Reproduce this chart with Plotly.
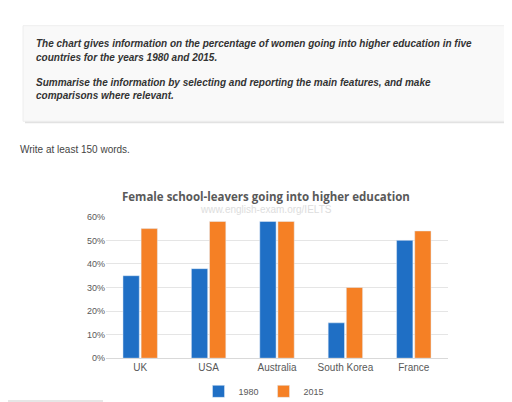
import plotly.graph_objects as go

countries = ["UK", "USA", "Australia", "South Korea", "France"]
v1980 = [0.35, 0.38, 0.58, 0.15, 0.50]
v2015 = [0.55, 0.58, 0.58, 0.30, 0.54]
ticks = [0, 0.1, 0.2, 0.3, 0.4, 0.5, 0.6]
tick_labels = ["0%", "10%", "20%", "30%", "40%", "50%", "60%"]

W, H = 512, 402
def py(p): return 1 - p / H
def px(p): return p / W

fig = go.Figure()
fig.add_bar(x=countries, y=v1980, name="1980", marker_color="#1f6fc5")
fig.add_bar(x=countries, y=v2015, name="2015", marker_color="#f58025")

fig.update_layout(
    width=W, height=H, margin=dict(l=0, r=0, t=0, b=0),
    paper_bgcolor="white", plot_bgcolor="white",
    barmode="group", bargap=0.47, bargroupgap=0.1,
    font=dict(family="Liberation Sans", size=9, color="#595959"),
    xaxis=dict(domain=[px(98), px(440)], showline=True, linecolor="#d9d9d9",
               ticks="", tickfont=dict(size=10, color="#595959")),
    yaxis=dict(domain=[py(354), py(209)], range=[0, 0.6], tickvals=ticks,
               ticktext=tick_labels, gridcolor="#e5e5e5", zeroline=False,
               showline=False, tickfont=dict(size=9, color="#595959")),
    legend=dict(orientation="h", x=0.5, xanchor="center", y=py(388), yanchor="middle",
                font=dict(size=9, color="#595959"), itemwidth=30, tracegroupgap=0),
    showlegend=True,
)

shapes = [
    dict(type="rect", xref="paper", yref="paper", x0=px(17), x1=px(500), y0=py(113), y1=py(15),
         fillcolor="#e2e2e2", line=dict(width=0), layer="below"),
    dict(type="rect", xref="paper", yref="paper", x0=px(15), x1=px(498), y0=py(111), y1=py(13),
         fillcolor="#f9f9f9", line=dict(color="#eeeeee", width=1), layer="below"),
    dict(type="line", xref="paper", yref="paper", x0=0, x1=px(95), y0=py(398), y1=py(398),
         line=dict(color="#e6e6e6", width=2)),
]
fig.update_layout(shapes=shapes)

ann = []
lines = [("The chart gives information on the percentage of women going into higher education in five", 31),
         ("countries for the years 1980 and 2015.", 46),
         ("Summarise the information by selecting and reporting the main features, and make", 71),
         ("comparisons where relevant.", 85)]
for t, y in lines:
    ann.append(dict(text="<b><i>" + t + "</i></b>", x=px(26), y=py(y), xref="paper", yref="paper",
                    xanchor="left", yanchor="middle", showarrow=False,
                    font=dict(family="Liberation Sans", size=10, color="#333333")))
ann.append(dict(text="Write at least 150 words.", x=px(10), y=py(140), xref="paper", yref="paper",
                xanchor="left", yanchor="middle", showarrow=False,
                font=dict(family="Liberation Sans", size=10, color="#444444")))
ann.append(dict(text="<b>Female school-leavers going into higher education</b>", x=px(258), y=py(188),
                xref="paper", yref="paper", xanchor="center", yanchor="middle", showarrow=False,
                font=dict(family="Open Sans", size=11.5, color="#595959")))
ann.append(dict(text="www.english-exam.org/IELTS", x=px(258), y=py(202),
                xref="paper", yref="paper", xanchor="center", yanchor="middle", showarrow=False,
                font=dict(family="Liberation Sans", size=10, color="#dddddd")))
fig.update_layout(annotations=ann)

fig.write_html("out.html")
